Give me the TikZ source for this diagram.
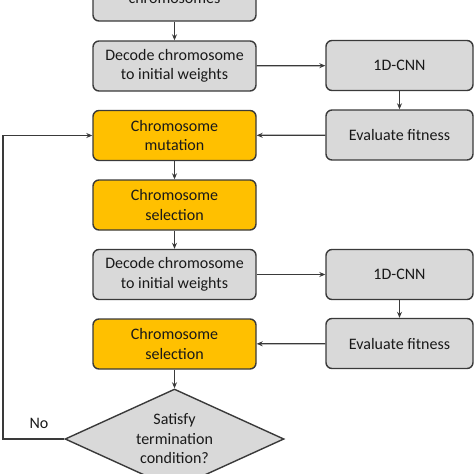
\documentclass[tikz,border=0pt]{standalone}
\usepackage{fontspec}
\setmainfont{Carlito}
\usetikzlibrary{shapes.geometric}
\usetikzlibrary{arrows.meta}

\definecolor{boxgray}{HTML}{D9D9D9}
\definecolor{boxorange}{HTML}{FFC000}
\definecolor{edgegray}{HTML}{3A3A3A}

\begin{document}
\begin{tikzpicture}[x=1pt,y=-1pt,
  font=\fontsize{16}{19.5}\selectfont,
  stepbox/.style={rectangle,rounded corners=6pt,draw=edgegray,line width=1.4pt,
    minimum height=50pt,inner sep=0pt,align=center,text=black!90},
  leftbox/.style={stepbox,minimum width=163pt},
  rightbox/.style={stepbox,minimum width=147pt,fill=boxgray},
  flow/.style={draw=edgegray,line width=1.2pt,-{Stealth[length=6pt,width=5pt]}}]
\useasboundingbox (0,0) rectangle (474,474);
\clip (0,0) rectangle (474,474);

\node[leftbox,fill=boxgray] (init) at (174.5,-4) {};
\node[anchor=base,text=black!90] (initlbl) at (174.5,3) {chromosomes};
\node[leftbox,fill=boxgray] (dec1) at (174.5,66) {Decode chromosome\\to initial weights};
\node[rightbox] (cnn1) at (399.5,65.5) {1D-CNN};
\node[leftbox,fill=boxorange] (mut) at (174.5,135.5) {Chromosome\\mutation};
\node[rightbox] (fit1) at (399.5,135) {Evaluate fitness};
\node[leftbox,fill=boxorange] (sel1) at (174.5,205) {Chromosome\\selection};
\node[leftbox,fill=boxgray] (dec2) at (174.5,274.5) {Decode chromosome\\to initial weights};
\node[rightbox] (cnn2) at (399.5,274.5) {1D-CNN};
\node[rightbox] (fit2) at (399.5,343.5) {Evaluate fitness};
\node[leftbox,fill=boxorange] (sel2) at (174.5,344) {Chromosome\\selection};
\node[diamond,draw=edgegray,line width=1.4pt,fill=boxgray,aspect=2.19,inner sep=0pt,
  minimum width=219pt,minimum height=100pt,align=center,text=black!90]
  (term) at (174.5,439) {Satisfy\\termination\\condition?};
\node[text=black!90] (nolbl) at (39,423) {No};
\coordinate (back) at (3,439);

\draw[flow] (init) -- (dec1);
\draw[flow] (dec1) -- (cnn1);
\draw[flow] (cnn1) -- (fit1);
\draw[flow] (fit1) -- (mut);
\draw[flow] (mut) -- (sel1);
\draw[flow] (sel1) -- (dec2);
\draw[flow] (dec2) -- (cnn2);
\draw[flow] (cnn2) -- (fit2);
\draw[flow] (fit2) -- (sel2);
\draw[flow] (sel2) -- (term);
\draw[flow] (term.west) -- (back) |- (mut.west);

\end{tikzpicture}
\end{document}
